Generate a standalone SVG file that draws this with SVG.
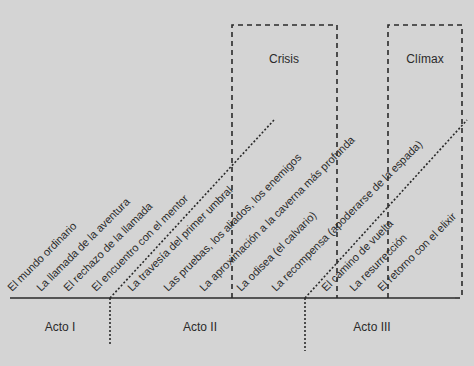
<svg xmlns="http://www.w3.org/2000/svg" width="474" height="366" viewBox="0 0 474 366">
<style>
.lbl{font-family:"Liberation Sans",Arial,sans-serif;font-size:11px;fill:#2a2a2a}
.hd{font-family:"Liberation Sans",Arial,sans-serif;font-size:12px;fill:#2a2a2a;text-anchor:middle}
.dash{fill:none;stroke:#2a2a2a;stroke-width:1.6;stroke-dasharray:5 4}
.dot{fill:none;stroke:#2a2a2a;stroke-width:1.6;stroke-dasharray:2 2}
.base{stroke:#2a2a2a;stroke-width:1.5}
</style>
<rect width="474" height="366" fill="#d4d4d4"/>
<g id="connectors">
<line class="base" x1="10" y1="298" x2="455" y2="298"/>
<line class="dash" x1="455" y1="298" x2="462" y2="298"/>
<path class="dash" d="M232,298 V25 H337 V298"/>
<path class="dash" d="M388,298 V25 H462 V298"/>
<line class="dot" x1="110" y1="298" x2="110" y2="345"/>
<line class="dot" x1="305" y1="298" x2="305" y2="351"/>
<line class="dot" x1="110" y1="298" x2="274" y2="120"/>
<line class="dot" x1="305" y1="298" x2="467" y2="120"/>
</g>
<g id="crisis"><text class="hd" x="284" y="63">Crisis</text></g>
<g id="climax"><text class="hd" x="425" y="63">Clímax</text></g>
<g id="acto1"><text class="hd" x="60" y="331">Acto I</text></g>
<g id="acto2"><text class="hd" x="200" y="331">Acto II</text></g>
<g id="acto3"><text class="hd" x="372" y="331">Acto III</text></g>
<g id="stages">
<text class="lbl" transform="translate(12,292) rotate(-45)">El mundo ordinario</text>
<text class="lbl" transform="translate(41,292) rotate(-45)">La llamada de la aventura</text>
<text class="lbl" transform="translate(68,292) rotate(-45)">El rechazo de la llamada</text>
<text class="lbl" transform="translate(96,292) rotate(-45)">El encuentro con el mentor</text>
<text class="lbl" transform="translate(132,292) rotate(-45)">La travesía del primer umbral</text>
<text class="lbl" transform="translate(168,292) rotate(-45)">Las pruebas, los aliados, los enemigos</text>
<text class="lbl" transform="translate(204,292) rotate(-45)">La aproximación a la caverna más profunda</text>
<text class="lbl" transform="translate(241,292) rotate(-45)">La odisea (el calvario)</text>
<text class="lbl" transform="translate(276,292) rotate(-45)">La recompensa (apoderarse de la espada)</text>
<text class="lbl" transform="translate(326,292) rotate(-45)">El camino de vuelta</text>
<text class="lbl" transform="translate(354,292) rotate(-45)">La resurrección</text>
<text class="lbl" transform="translate(382,292) rotate(-45)">El retorno con el elixir</text>
</g>
</svg>
